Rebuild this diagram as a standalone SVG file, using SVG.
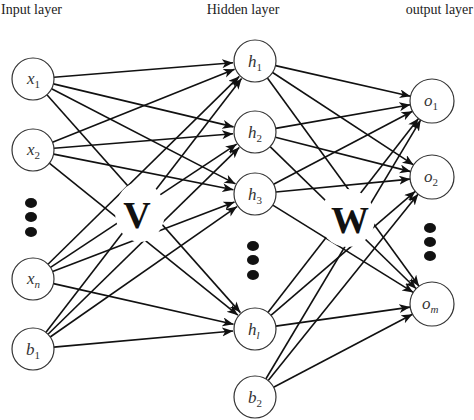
<svg xmlns="http://www.w3.org/2000/svg" width="474" height="420" viewBox="0 0 474 420">
<defs>
<marker id="arr" markerUnits="userSpaceOnUse" markerWidth="12" markerHeight="10" refX="11" refY="4.5" orient="auto">
<path d="M0,0 L11,4.5 L0,9 L3,4.5 z" fill="#111"/>
</marker>
<style>
.e{stroke:#111;stroke-width:1.6;fill:none;marker-end:url(#arr)}
.n{fill:#fff;stroke:#333;stroke-width:1.2}
.lbl{font-family:"Liberation Serif",serif;font-style:italic;font-size:17px;fill:#333}
.sub{font-size:11px}
.sn{font-style:normal}
.title{font-family:"Liberation Serif",serif;font-size:14px;fill:#222}
.big{font-family:"Liberation Serif",serif;font-weight:bold;font-size:38px;fill:#111}
.dot{fill:#111}
</style>
</defs>
<rect width="474" height="420" fill="#fff"/>
<text class="title" x="1" y="14">Input layer</text>
<text class="title" x="243" y="14" text-anchor="middle">Hidden layer</text>
<text class="title" x="473" y="14" text-anchor="end">output layer</text>
<g id="connectors">
<line class="e" x1="53.9" y1="77.3" x2="233.1" y2="62.8"/>
<line class="e" x1="53.4" y1="83.9" x2="233.6" y2="126.9"/>
<line class="e" x1="51.6" y1="88.7" x2="235.5" y2="183.9"/>
<line class="e" x1="46.9" y1="94.7" x2="240.4" y2="312.6"/>
<line class="e" x1="52.5" y1="142.2" x2="234.6" y2="69.2"/>
<line class="e" x1="53.9" y1="148.3" x2="233.1" y2="133.8"/>
<line class="e" x1="53.6" y1="154.1" x2="233.4" y2="189.7"/>
<line class="e" x1="49.3" y1="163.2" x2="237.9" y2="315.2"/>
<line class="e" x1="48.0" y1="264.3" x2="239.3" y2="76.4"/>
<line class="e" x1="50.5" y1="267.4" x2="236.7" y2="144.1"/>
<line class="e" x1="52.6" y1="271.5" x2="234.5" y2="201.9"/>
<line class="e" x1="53.5" y1="283.6" x2="233.5" y2="324.2"/>
<line class="e" x1="45.8" y1="332.4" x2="241.6" y2="78.4"/>
<line class="e" x1="48.0" y1="334.3" x2="239.3" y2="147.4"/>
<line class="e" x1="50.2" y1="337.0" x2="237.0" y2="206.6"/>
<line class="e" x1="53.9" y1="347.1" x2="233.1" y2="331.0"/>
<line class="e" x1="275.5" y1="65.6" x2="410.5" y2="96.2"/>
<line class="e" x1="272.6" y1="72.5" x2="413.6" y2="164.9"/>
<line class="e" x1="267.4" y1="78.0" x2="419.0" y2="286.2"/>
<line class="e" x1="275.7" y1="128.4" x2="410.3" y2="104.8"/>
<line class="e" x1="275.4" y1="137.2" x2="410.7" y2="171.6"/>
<line class="e" x1="270.1" y1="146.6" x2="416.2" y2="288.7"/>
<line class="e" x1="273.6" y1="184.2" x2="412.5" y2="111.2"/>
<line class="e" x1="275.9" y1="192.0" x2="410.1" y2="179.1"/>
<line class="e" x1="272.8" y1="205.1" x2="413.3" y2="292.4"/>
<line class="e" x1="267.9" y1="312.4" x2="418.5" y2="118.4"/>
<line class="e" x1="270.9" y1="315.3" x2="415.3" y2="191.3"/>
<line class="e" x1="275.8" y1="326.1" x2="410.2" y2="307.1"/>
<line class="e" x1="265.8" y1="379.0" x2="420.7" y2="119.9"/>
<line class="e" x1="268.2" y1="380.6" x2="418.2" y2="194.1"/>
<line class="e" x1="273.6" y1="387.2" x2="412.5" y2="314.2"/>
</g>
<g id="label-V">
<ellipse cx="140" cy="212" rx="25" ry="30" fill="#fff"/>
<text class="big" x="137" y="228" text-anchor="middle">V</text>
</g>
<g id="label-W">
<ellipse cx="347" cy="218" rx="28" ry="29" fill="#fff"/>
<text class="big" x="350" y="233" text-anchor="middle">W</text>
</g>
<g id="node-x1"><circle class="n" cx="33" cy="79" r="21"/><text class="lbl" x="27" y="84">x<tspan class="sub sn" dy="4">1</tspan></text></g>
<g id="node-x2"><circle class="n" cx="33" cy="150" r="21"/><text class="lbl" x="27" y="155">x<tspan class="sub sn" dy="4">2</tspan></text></g>
<g id="node-xn"><circle class="n" cx="33" cy="279" r="21"/><text class="lbl" x="27" y="284">x<tspan class="sub" dy="4">n</tspan></text></g>
<g id="node-b1"><circle class="n" cx="33" cy="349" r="21"/><text class="lbl" x="26" y="355">b<tspan class="sub sn" dy="4">1</tspan></text></g>
<g id="dots-input"><ellipse class="dot" cx="31" cy="203" rx="6" ry="5"/><ellipse class="dot" cx="31" cy="217" rx="6" ry="5"/><ellipse class="dot" cx="31" cy="232" rx="6" ry="5"/></g>
<g id="node-h1"><circle class="n" cx="255" cy="61" r="21"/><text class="lbl" x="248" y="67">h<tspan class="sub sn" dy="4">1</tspan></text></g>
<g id="node-h2"><circle class="n" cx="255" cy="132" r="21"/><text class="lbl" x="248" y="138">h<tspan class="sub sn" dy="4">2</tspan></text></g>
<g id="node-h3"><circle class="n" cx="255" cy="194" r="21"/><text class="lbl" x="248" y="200">h<tspan class="sub sn" dy="4">3</tspan></text></g>
<g id="node-hl"><circle class="n" cx="255" cy="329" r="21"/><text class="lbl" x="248" y="335">h<tspan class="sub" dy="4">l</tspan></text></g>
<g id="node-b2"><circle class="n" cx="255" cy="397" r="21"/><text class="lbl" x="248" y="403">b<tspan class="sub sn" dy="4">2</tspan></text></g>
<g id="dots-hidden"><ellipse class="dot" cx="253" cy="246" rx="6" ry="5"/><ellipse class="dot" cx="253" cy="260" rx="6" ry="5"/><ellipse class="dot" cx="253" cy="275" rx="6" ry="5"/></g>
<g id="node-o1"><circle class="n" cx="432" cy="101" r="22"/><text class="lbl" x="424" y="106">o<tspan class="sub sn" dy="4">1</tspan></text></g>
<g id="node-o2"><circle class="n" cx="432" cy="177" r="22"/><text class="lbl" x="424" y="182">o<tspan class="sub sn" dy="4">2</tspan></text></g>
<g id="node-om"><circle class="n" cx="432" cy="304" r="22"/><text class="lbl" x="422" y="309">o<tspan class="sub" dy="4">m</tspan></text></g>
<g id="dots-output"><ellipse class="dot" cx="430" cy="228" rx="6" ry="5"/><ellipse class="dot" cx="430" cy="242" rx="6" ry="5"/><ellipse class="dot" cx="430" cy="256" rx="6" ry="5"/></g>
</svg>
